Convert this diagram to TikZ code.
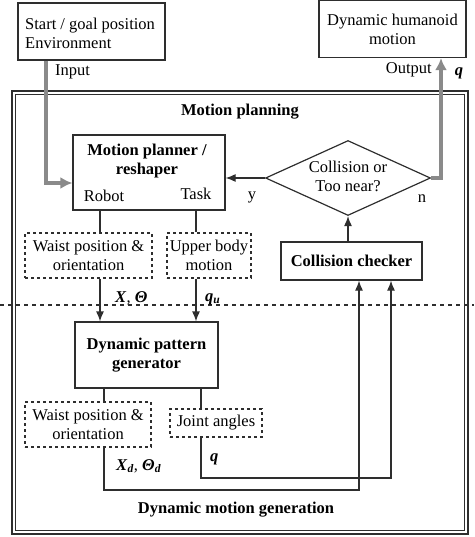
\documentclass[tikz,border=0pt]{standalone}
\usepackage{fontspec}
\setmainfont{Liberation Serif}
\usetikzlibrary{shapes.geometric,arrows.meta}
\definecolor{ln}{HTML}{2E2E2E}
\definecolor{gr}{HTML}{8A8A8A}
\begin{document}
\begin{tikzpicture}[x=1pt,y=-1pt,
  font=\fontsize{16.5}{19}\selectfont,
  box/.style={draw=ln, line width=1.2pt, inner sep=0pt, align=center},
  dbox/.style={draw=ln, line width=1.1pt, dash pattern=on 3pt off 3pt, inner sep=0pt, align=center},
  txt/.style={inner sep=0pt, align=center},
  conn/.style={draw=ln, line width=1.2pt},
  arr/.style={conn, -{Latex[length=10pt,width=8pt]}},
  garr/.style={draw=gr, line width=3.4pt, -{Latex[length=12pt,width=12pt]}},
  bi/.style={inner sep=0pt, font=\fontsize{16.5}{19}\selectfont\bfseries\itshape}]
\useasboundingbox (0,0) rectangle (474,537);
% frame
\node[draw=ln, line width=1.2pt, minimum width=456pt, minimum height=443pt, inner sep=0pt] (fo) at (240,312.5) {};
\node[draw=ln, line width=1.2pt, minimum width=449pt, minimum height=436pt, inner sep=0pt] (fi) at (240,312.5) {};
\coordinate (dl) at (0,305);
\coordinate (dr) at (474,305);
\draw[ln, line width=1.1pt, dash pattern=on 4pt off 4pt] (dl) -- (dr);
% top boxes
\node[box, minimum width=147pt, minimum height=57pt] (start) at (91.5,31.5) {};
\node[txt, align=left, anchor=west] (startt) at (25,33.5) {Start / goal position\\Environment};
\node[box, minimum width=147pt, minimum height=57pt] (out) at (392.5,29) {};
\node[txt] (outt) at (392.5,29.5) {Dynamic humanoid\\motion};
\node[txt, anchor=west] (inl) at (55,72) {Input};
\node[txt, anchor=east] (outl) at (432,70) {Output};
\node[bi] (qo) at (459,73) {q};
% titles
\node[txt, font=\fontsize{16.5}{19}\selectfont\bfseries] (mpl) at (240,112) {Motion planning};
\node[txt, font=\fontsize{16.5}{19}\selectfont\bfseries] (dmg) at (236,510) {Dynamic motion generation};
% planner
\node[box, minimum width=152pt, minimum height=75pt] (mp) at (149,172.5) {};
\node[txt, font=\fontsize{16.5}{19}\selectfont\bfseries] (mpt) at (147,161) {Motion planner /\\reshaper};
\node[txt] (robot) at (104,196) {Robot};
\node[txt] (task) at (196,194) {Task};
% diamond
\node[draw=ln, line width=1.2pt, diamond, minimum width=165pt, minimum height=75pt, inner sep=0pt] (dia) at (348,178) {};
\node[txt] (diat) at (348,176.5) {Collision or\\Too near?};
\node[txt] (yl) at (252,197) {y};
\node[txt] (nl) at (422,199) {n};
% collision checker
\node[box, minimum width=141pt, minimum height=38pt, font=\fontsize{16.5}{19}\selectfont\bfseries] (cc) at (351.5,261) {Collision checker};
% waist / upper body
\node[dbox, minimum width=127pt, minimum height=45pt] (w1) at (88.5,255.5) {Waist position \&\\orientation};
\node[dbox, minimum width=84pt, minimum height=45pt] (ub) at (209,255.5) {Upper body\\motion};
\coordinate (xr) at (100,0);
\coordinate (xt) at (196,0);
% DPG
\node[box, minimum width=143pt, minimum height=66pt, font=\fontsize{16.5}{19}\selectfont\bfseries] (dpg) at (146.5,355) {Dynamic pattern\\generator};
\node[dbox, minimum width=126pt, minimum height=45pt] (w2) at (88,424.5) {Waist position \&\\orientation};
\node[dbox, minimum width=92pt, minimum height=28pt] (ja) at (216,423) {Joint angles};
\coordinate (xw) at (104,0);
\coordinate (xj) at (201,0);
\coordinate (c1) at (359,490);
\coordinate (c2) at (391,478);
\coordinate (xi) at (46,0);
\coordinate (yi) at (0,183);
\coordinate (xo) at (441,0);
% labels
\node[txt, anchor=west] (xth) at (115,298) {\textbf{\textit{X}}, \textbf{\textit{Θ}}};
\node[bi, anchor=west] (qu) at (205,299) {q\textsubscript{u}};
\node[txt, anchor=west] (xthd) at (116,466) {\textbf{\textit{X}\textsubscript{\textit{d}}}, \textbf{\textit{Θ}\textsubscript{\textit{d}}}};
\node[bi, anchor=west] (ql) at (210,459) {q};
% connectors
\draw[garr] (start.south -| xi) |- (mp.west |- yi);
\draw[garr] (dia.east) -| (out.south -| xo);
\draw[arr] (dia.west) -- (dia.west -| mp.east);
\draw[arr] (cc.north -| dia.south) -- (dia.south);
\draw[conn] (mp.south -| xr) -- (w1.north -| xr);
\draw[conn] (mp.south -| xt) -- (ub.north -| xt);
\draw[arr] (w1.south -| xr) -- (dpg.north -| xr);
\draw[arr] (ub.south -| xt) -- (dpg.north -| xt);
\draw[conn] (dpg.south -| xw) -- (w2.north -| xw);
\draw[conn] (dpg.south -| xj) -- (ja.north -| xj);
\draw[arr] (w2.south -| xw) |- (c1) -- (cc.south -| c1);
\draw[arr] (ja.south -| xj) |- (c2) -- (cc.south -| c2);
\end{tikzpicture}
\end{document}
